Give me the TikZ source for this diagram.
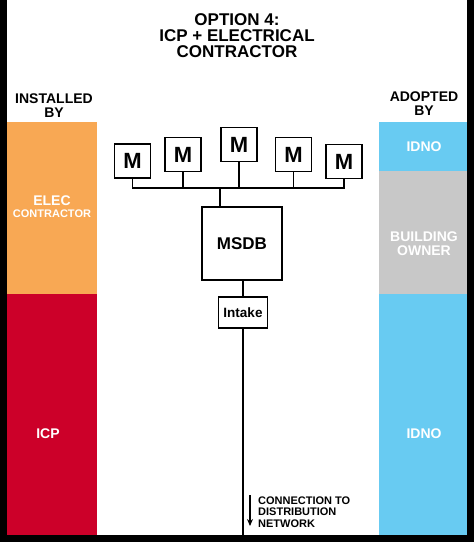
\documentclass[tikz,border=0pt]{standalone}
\usepackage{fontspec}
\setmainfont{Liberation Sans}
\usetikzlibrary{arrows.meta}
\definecolor{barorange}{RGB}{248,168,84}
\definecolor{barred}{RGB}{204,0,41}
\definecolor{barblue}{RGB}{104,203,242}
\definecolor{bargrey}{RGB}{200,200,200}
\tikzset{
  bar/.style={anchor=north west, inner sep=0pt, outer sep=0pt, draw=none},
  bartext/.style={text=white, font=\bfseries\fontsize{14}{14}\selectfont, align=center, inner sep=0pt},
  head/.style={text=black, font=\bfseries\fontsize{14}{14}\selectfont, align=center, inner sep=0pt},
  meter/.style={draw=black, line width=1.8pt, fill=white, minimum width=36pt, minimum height=34pt, inner sep=0pt, font=\bfseries\fontsize{22}{22}\selectfont},
  wire/.style={draw=black, line width=1.6pt},
}
\begin{document}
\begin{tikzpicture}[x=1pt,y=-1pt]
\useasboundingbox (0,0) rectangle (474,542);
% frame
\fill[black] (0,0) rectangle (474,542);
\fill[white] (7,0) rectangle (467,535);
% left bars
\node[bar, fill=barorange, minimum width=90pt, minimum height=172pt] (lo) at (7,122) {};
\node[bar, fill=barred, minimum width=90pt, minimum height=241pt] (lr) at (7,294) {};
% right bars
\node[bar, fill=barblue, minimum width=88pt, minimum height=49pt] (rb1) at (379,122) {};
\node[bar, fill=bargrey, minimum width=88pt, minimum height=123pt] (rg) at (379,171) {};
\node[bar, fill=barblue, minimum width=88pt, minimum height=241pt] (rb2) at (379,294) {};
% bar labels
\node[bartext] (telec) at (52,207) {ELEC\\[-2pt]{\fontsize{11}{11}\selectfont CONTRACTOR}};
\node[bartext] (ticp) at (48,434) {ICP};
\node[bartext] (tidno1) at (424,147) {IDNO};
\node[bartext] (tbo) at (424,243.5) {BUILDING\\OWNER};
\node[bartext] (tidno2) at (424,434) {IDNO};
% headings
\node[head, font=\bfseries\fontsize{17}{16}\selectfont] (title) at (237,35.5) {OPTION 4:\\ICP + ELECTRICAL\\CONTRACTOR};
\node[head] (inst) at (54,106) {INSTALLED\\BY};
\node[head] (adop) at (424,104) {ADOPTED\\BY};
% meters
\node[meter] (m1) at (132.5,161) {M};
\node[meter] (m2) at (183,154.5) {M};
\node[meter] (m3) at (239,144.5) {M};
\node[meter] (m4) at (293.5,154.5) {M};
\node[meter] (m5) at (344,161.5) {M};
\coordinate (bus) at (220,188);
\node[meter, minimum width=80pt, minimum height=73pt, font=\bfseries\fontsize{17}{17}\selectfont] (msdb) at (242,243.5) {MSDB};
\node[meter, minimum width=49pt, minimum height=31pt, font=\bfseries\fontsize{13.5}{13.5}\selectfont] (intake) at (243,312.5) {Intake};
\coordinate (net) at (243,535);
% wires
\draw[wire] (m1.south) -- (m1.south |- bus) -- (m5.south |- bus) -- (m5.south);
\draw[wire] (m2.south) -- (m2.south |- bus);
\draw[wire] (m3.south) -- (m3.south |- bus);
\draw[wire] (m4.south) -- (m4.south |- bus);
\draw[wire] (bus) -- (bus |- msdb.north);
\draw[wire] (msdb.south -| intake) -- (intake.north);
\draw[wire] (intake.south) -- (net);
% arrow and label
\coordinate (a1) at (250,495);
\coordinate (a2) at (250,526);
\draw[line width=1.3pt, -{Stealth[length=7pt,width=6pt]}] (a1) -- (a2);
\node[anchor=west, align=left, inner sep=0pt, font=\bfseries\fontsize{11}{11.5}\selectfont] (conn) at (258,512) {CONNECTION TO\\DISTRIBUTION\\NETWORK};
\end{tikzpicture}
\end{document}
